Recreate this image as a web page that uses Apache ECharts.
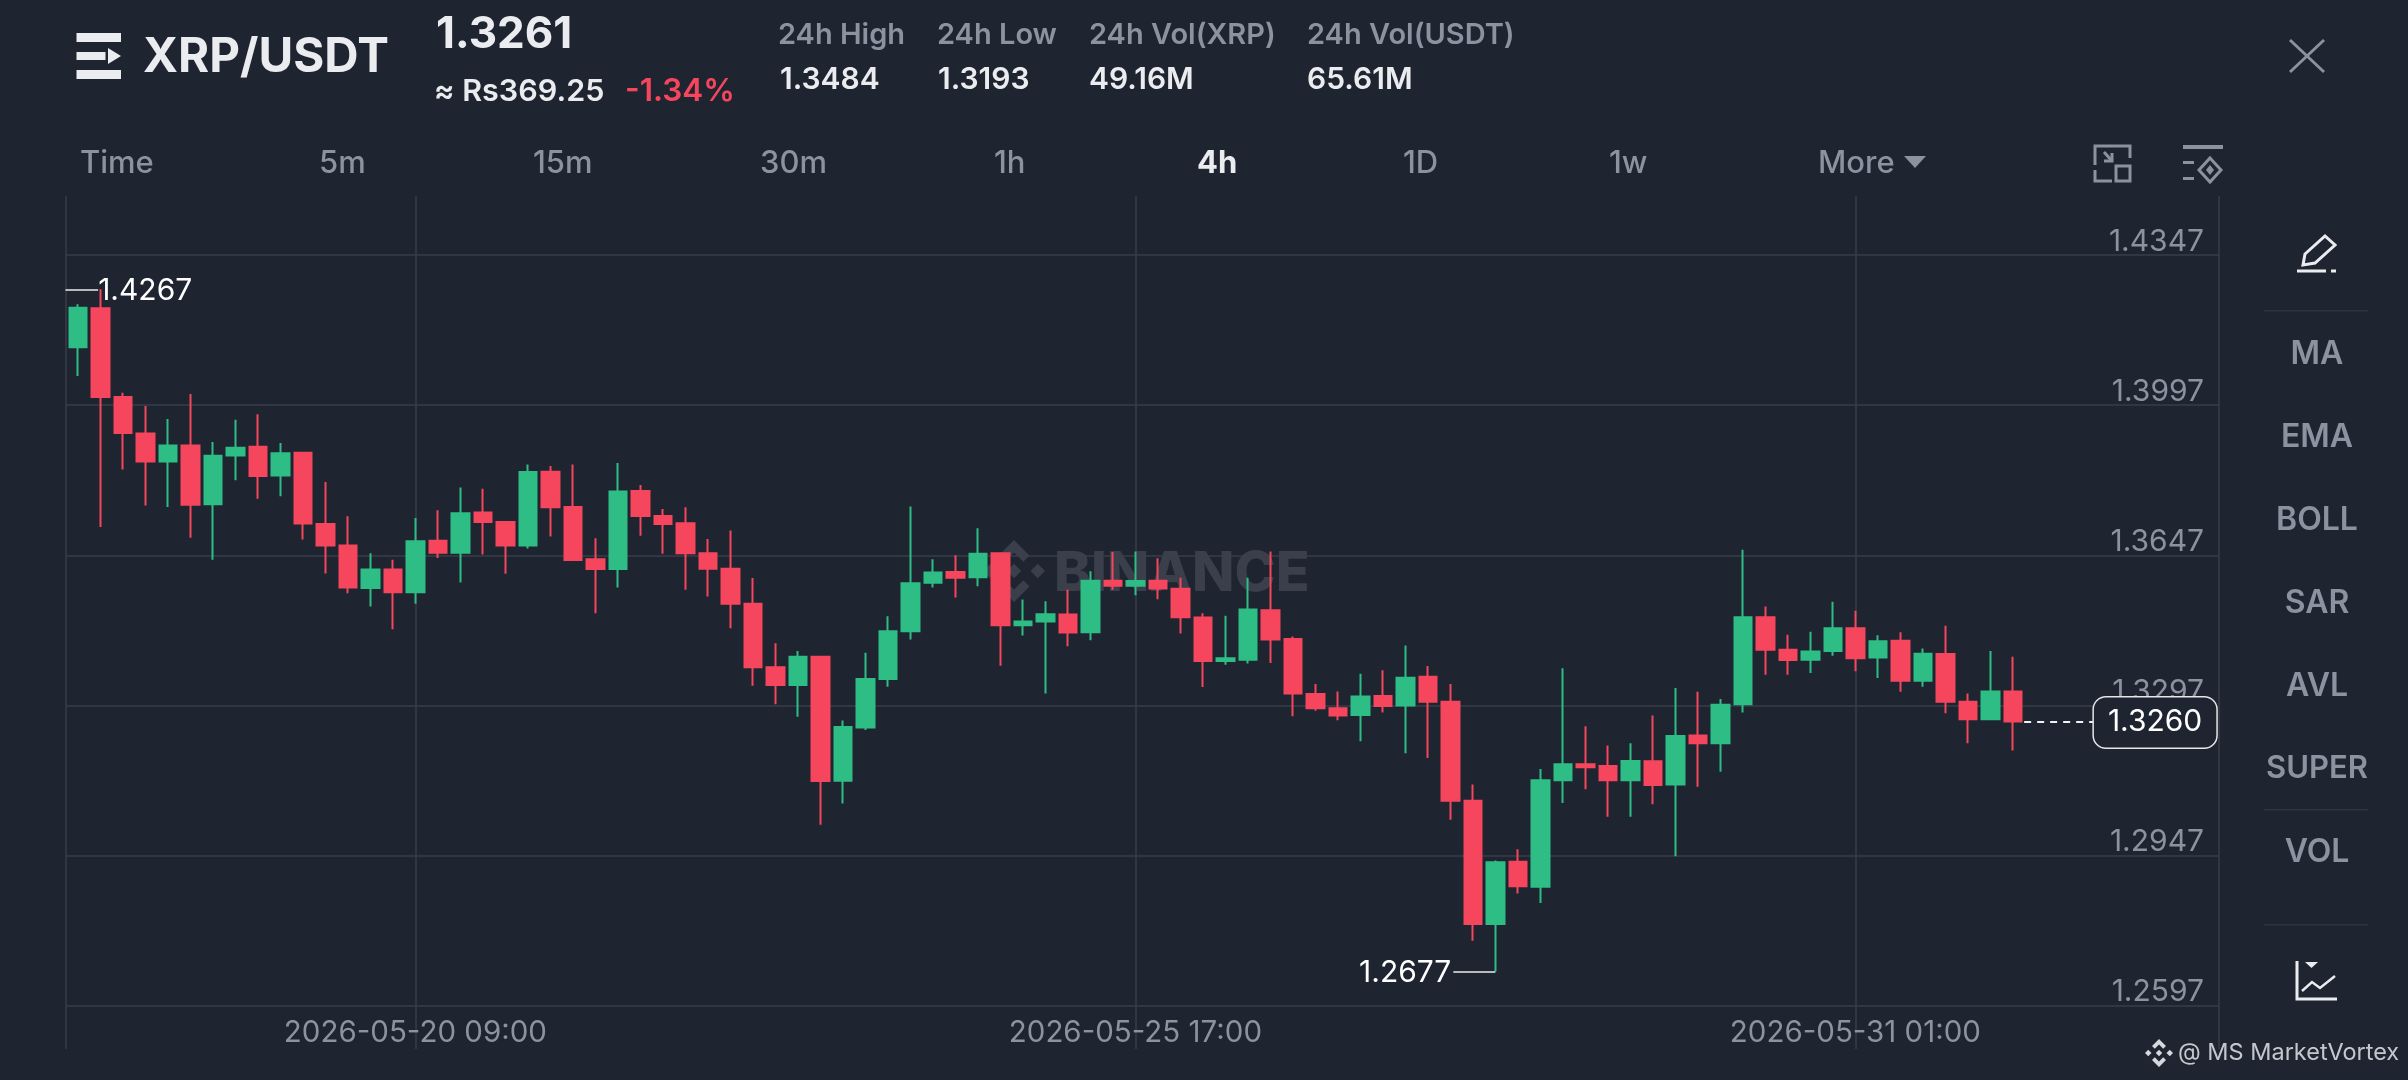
<!DOCTYPE html>
<html><head><meta charset="utf-8">
<style>html,body{margin:0;padding:0;background:#1E2430}#c{width:2408px;height:1080px}</style>
<script src="https://cdn.jsdelivr.net/npm/echarts@6/dist/echarts.min.js"></script>
</head><body><div id="c"></div>
<script>
const candleTimes = [
'05-17 21:00',
'05-18 01:00','05-18 05:00','05-18 09:00','05-18 13:00','05-18 17:00','05-18 21:00',
'05-19 01:00','05-19 05:00','05-19 09:00','05-19 13:00','05-19 17:00','05-19 21:00',
'05-20 01:00','05-20 05:00','05-20 09:00','05-20 13:00','05-20 17:00','05-20 21:00',
'05-21 01:00','05-21 05:00','05-21 09:00','05-21 13:00','05-21 17:00','05-21 21:00',
'05-22 01:00','05-22 05:00','05-22 09:00','05-22 13:00','05-22 17:00','05-22 21:00',
'05-23 01:00','05-23 05:00','05-23 09:00','05-23 13:00','05-23 17:00','05-23 21:00',
'05-24 01:00','05-24 05:00','05-24 09:00','05-24 13:00','05-24 17:00','05-24 21:00',
'05-25 01:00','05-25 05:00','05-25 09:00','05-25 13:00','05-25 17:00','05-25 21:00',
'05-26 01:00','05-26 05:00','05-26 09:00','05-26 13:00','05-26 17:00','05-26 21:00',
'05-27 01:00','05-27 05:00','05-27 09:00','05-27 13:00','05-27 17:00','05-27 21:00',
'05-28 01:00','05-28 05:00','05-28 09:00','05-28 13:00','05-28 17:00','05-28 21:00',
'05-29 01:00','05-29 05:00','05-29 09:00','05-29 13:00','05-29 17:00','05-29 21:00',
'05-30 01:00','05-30 05:00','05-30 09:00','05-30 13:00','05-30 17:00','05-30 21:00',
'05-31 01:00','05-31 05:00','05-31 09:00','05-31 13:00','05-31 17:00','05-31 21:00',
'06-01 01:00','06-01 05:00'];
const opens = [1.4132,1.4223,1.4016,1.3931,1.3866,1.3903,1.3766,1.3880,1.3900,1.3833,1.3886,1.3720,1.3670,1.3571,1.3614,1.3561,1.3681,1.3653,1.3747,1.3725,1.3670,1.3842,1.3760,1.3638,1.3615,1.3797,1.3739,1.3722,1.3652,1.3616,1.3534,1.3386,1.3345,1.3411,1.3122,1.3246,1.3359,1.3470,1.3583,1.3608,1.3596,1.3652,1.3484,1.3493,1.3509,1.3468,1.3588,1.3576,1.3588,1.3569,1.3502,1.3401,1.3404,1.3519,1.3452,1.3324,1.3291,1.3275,1.3319,1.3297,1.3364,1.3306,1.3075,1.2788,1.2933,1.2875,1.3123,1.3160,1.3156,1.3123,1.3167,1.3113,1.3227,1.3209,1.3300,1.3503,1.3427,1.3404,1.3424,1.3477,1.3409,1.3448,1.3355,1.3417,1.3306,1.3265,1.3330];
const closes = [1.4224,1.4016,1.3932,1.3866,1.3903,1.3765,1.3879,1.3898,1.3832,1.3885,1.3721,1.3670,1.3572,1.3614,1.3561,1.3680,1.3653,1.3745,1.3725,1.3670,1.3841,1.3759,1.3636,1.3615,1.3796,1.3739,1.3720,1.3652,1.3616,1.3534,1.3386,1.3345,1.3411,1.3121,1.3247,1.3359,1.3470,1.3582,1.3607,1.3595,1.3651,1.3484,1.3493,1.3510,1.3467,1.3588,1.3576,1.3587,1.3570,1.3503,1.3401,1.3407,1.3521,1.3451,1.3325,1.3291,1.3274,1.3318,1.3296,1.3362,1.3306,1.3075,1.2788,1.2932,1.2876,1.3123,1.3160,1.3153,1.3123,1.3168,1.3112,1.3226,1.3209,1.3299,1.3503,1.3427,1.3403,1.3423,1.3477,1.3407,1.3447,1.3355,1.3418,1.3306,1.3265,1.3330,1.3260];
const lows = [1.4065,1.3713,1.3847,1.3763,1.3760,1.3688,1.3637,1.3822,1.3779,1.3785,1.3684,1.3605,1.3559,1.3528,1.3475,1.3534,1.3641,1.3584,1.3649,1.3604,1.3663,1.3691,1.3636,1.3512,1.3572,1.3693,1.3651,1.3567,1.3551,1.3477,1.3343,1.3300,1.3271,1.3019,1.3069,1.3240,1.3341,1.3451,1.3572,1.3549,1.3575,1.3390,1.3460,1.3325,1.3435,1.3449,1.3567,1.3554,1.3545,1.3465,1.3340,1.3392,1.3395,1.3396,1.3272,1.3285,1.3263,1.3214,1.3281,1.3186,1.3175,1.3031,1.2749,1.2677,1.2859,1.2837,1.3070,1.3102,1.3038,1.3038,1.3067,1.2946,1.3108,1.3143,1.3281,1.3369,1.3369,1.3373,1.3413,1.3377,1.3361,1.3329,1.3341,1.3279,1.3209,1.3265,1.3192];
const highs = [1.4232,1.4267,1.4026,1.3995,1.3965,1.4023,1.3911,1.3963,1.3976,1.3909,1.3887,1.3818,1.3738,1.3652,1.3637,1.3734,1.3752,1.3805,1.3802,1.3727,1.3859,1.3855,1.3859,1.3687,1.3862,1.3811,1.3755,1.3759,1.3685,1.3705,1.3594,1.3442,1.3424,1.3413,1.3262,1.3420,1.3505,1.3761,1.3638,1.3647,1.3710,1.3654,1.3544,1.3540,1.3567,1.3610,1.3655,1.3656,1.3640,1.3595,1.3512,1.3506,1.3595,1.3656,1.3458,1.3347,1.3330,1.3371,1.3379,1.3437,1.3389,1.3347,1.3113,1.2936,1.2962,1.3149,1.3384,1.3249,1.3204,1.3209,1.3274,1.3338,1.3329,1.3312,1.3660,1.3528,1.3462,1.3469,1.3539,1.3518,1.3461,1.3468,1.3430,1.3483,1.3325,1.3424,1.3411];
const xTickIndexes = [15, 47, 79];
const xTickYear = '2026-';
const yTicks = [1.2597, 1.2947, 1.3297, 1.3647, 1.3997, 1.4347];
const highLabel = 1.4267, highIndex = 1;
const lowLabel = 1.2677, lowIndex = 63;
const lastPrice = 1.3260;

const BG='#1E2430', GRAY='#8B93A0', WHITE='#EAECEF', UP='#2EBD85', DOWN='#F6465D', LINE='#383E49';
const FONT='Inter';
const X_MIN=-0.55, X_MAX=95.16;

const T=(text,x,y,size,weight,color,align)=>({type:'text',z:20,silent:true,style:{text,x,y,font:`${weight} ${size}px ${FONT}`,fill:color,align:align||'left',verticalAlign:'middle'}});
const P=(points,opt)=>({type:'polygon',z:opt.z||20,silent:true,shape:{points},style:{fill:opt.fill||'none',stroke:opt.stroke||null,lineWidth:opt.w||0}});
const L=(points,color,w)=>({type:'polyline',z:20,silent:true,shape:{points},style:{stroke:color,lineWidth:w,fill:'none'}});
const R=(x,y,w,h,fill)=>({type:'rect',z:20,silent:true,shape:{x,y,width:w,height:h},style:{fill}});
const logo=(cx,cy,r,fill,z)=>{
  const s=r/30, m=p=>p.map(a=>[cx+a[0]*s,cy+a[1]*s]);
  return [
    [[0,-30],[15,-15],[9,-9],[0,-18],[-9,-9],[-15,-15]],
    [[0,30],[15,15],[9,9],[0,18],[-9,9],[-15,15]],
    [[-30,0],[-23,-7],[-16,0],[-23,7]],
    [[30,0],[23,-7],[16,0],[23,7]],
    [[0,-7],[7,0],[0,7],[-7,0]]
  ].map(p=>P(m(p),{fill,z}));
};

const graphics=[
  // header
  R(76.5,33,44.5,9,WHITE),R(76.5,52,29,8,WHITE),R(76.5,70,44.5,9,WHITE),
  P([[108,48],[121,56],[108,64]],{fill:WHITE}),
  T('XRP/USDT',143,58,47.5,700,WHITE),
  T('1.3261',436,35,44,700,WHITE),
  T('≈ Rs369.25',434,92,30.5,600,WHITE),
  T('-1.34%',625,92,31.5,600,DOWN),
  T('24h High',778,35,29,600,GRAY),T('1.3484',780,80,30,600,WHITE),
  T('24h Low',937,35,29,600,GRAY),T('1.3193',938,80,30,600,WHITE),
  T('24h Vol(XRP)',1089,35,29,600,GRAY),T('49.16M',1089,80,30,600,WHITE),
  T('24h Vol(USDT)',1307,35,29,600,GRAY),T('65.61M',1307,80,30,600,WHITE),
  L([[2290,40],[2324,72]],GRAY,3),L([[2324,40],[2290,72]],GRAY,3),
  // tabs
  T('Time',80,164,31,500,GRAY),T('5m',319,164,31,500,GRAY),T('15m',533,164,31,500,GRAY),
  T('30m',760,164,31,500,GRAY),T('1h',994,164,31,500,GRAY),T('4h',1197,164,31,700,WHITE),
  T('1D',1403,164,31,500,GRAY),T('1w',1609,164,31,500,GRAY),T('More',1818,164,31,500,GRAY),
  P([[1904,156],[1926,156],[1915,168]],{fill:GRAY}),
  L([[2095,165],[2095,146],[2130,146],[2130,158]],GRAY,3),
  L([[2095,170],[2095,181],[2112,181]],GRAY,3),
  {type:'rect',z:20,silent:true,shape:{x:2116,y:166,width:14,height:15},style:{fill:'none',stroke:GRAY,lineWidth:3}},
  L([[2104,152],[2112,161]],GRAY,3),L([[2104,161],[2112,161],[2112,153]],GRAY,3),
  R(2183,145,40,4,GRAY),R(2183,161,11,3,GRAY),R(2183,177,11,3,GRAY),
  P([[2210,158],[2221,170],[2210,182],[2199,170]],{stroke:GRAY,w:3}),
  P([[2210,165],[2214,170],[2210,175],[2206,170]],{fill:GRAY}),
  // right panel
  P([[2305,254],[2325,236],[2335,245],[2315,263],[2303,265]],{stroke:WHITE,w:3}),
  L([[2297,271],[2326,271]],WHITE,3),L([[2331,271],[2336,271]],WHITE,3),
  R(2264,310,104,1.5,'#2E343F'),R(2264,809,104,1.5,'#2E343F'),R(2264,924,104,1.5,'#2E343F'),
  T('MA',2317,354,32,600,GRAY,'center'),T('EMA',2317,437,32,600,GRAY,'center'),
  T('BOLL',2317,520,32,600,GRAY,'center'),T('SAR',2317,603,32,600,GRAY,'center'),
  T('AVL',2317,686,32,600,GRAY,'center'),T('SUPER',2317,769,31,600,GRAY,'center'),
  T('VOL',2317,852,32,600,GRAY,'center'),
  L([[2297,961],[2297,999],[2337,999]],WHITE,3),
  L([[2302,991],[2312,982],[2320,988],[2335,976]],WHITE,2.5),
  P([[2305,962],[2318,962],[2311.5,968]],{fill:WHITE}),
  // watermark
  ...logo(1014,571,31,'#3A3F4B',1),
  {type:'text',z:1,silent:true,style:{text:'BINANCE',x:1054,y:574,font:`800 55.5px ${FONT}`,fill:'#3A3F4B',verticalAlign:'middle'}},
  // footer
  ...logo(2159,1053,14,'#D5D8DC',20),
  T('@ MS MarketVortex',2178,1053,23.5,400,'#C4C8CE')
];

const candles = candleTimes.map((t,i)=>[i,opens[i],closes[i],lows[i],highs[i]]);

const chart=echarts.init(document.getElementById('c'),null,{renderer:'canvas'});
chart.setOption({
  animation:false,
  backgroundColor:BG,
  textStyle:{fontFamily:FONT},
  graphic:graphics,
  grid:{left:65.5,width:2153.5,top:196,height:853,containLabel:false},
  xAxis:{
    type:'value',min:X_MIN,max:X_MAX,
    axisLine:{show:false},
    axisTick:{show:false,customValues:[X_MIN,...xTickIndexes,X_MAX]},
    splitLine:{show:true,showMinLine:true,showMaxLine:true,lineStyle:{color:LINE,width:1.5}},
    axisLabel:{show:true,inside:true,margin:1,customValues:xTickIndexes,color:GRAY,fontSize:29.5,fontFamily:FONT,
      formatter:v=>xTickYear+candleTimes[v]}
  },
  yAxis:{
    type:'value',position:'right',min:1.24966,max:1.44845,scale:true,
    axisLine:{show:false},
    axisTick:{show:false,customValues:yTicks},
    splitLine:{show:true,lineStyle:{color:LINE,width:1.5}},
    axisLabel:{inside:true,margin:15,customValues:yTicks,color:GRAY,fontSize:30,lineHeight:27,fontFamily:FONT,
      verticalAlign:'bottom',formatter:v=>v.toFixed(4)}
  },
  series:[{
    type:'candlestick',
    barWidth:18,
    clip:false,
    data:candles,
    encode:{x:0,y:[1,2,3,4]},
    itemStyle:{color:UP,color0:DOWN,borderColor:UP,borderColor0:DOWN,borderWidth:2},
    markLine:{
      silent:true,symbol:'none',animation:false,
      data:[
        [{coord:[-0.55,highLabel],lineStyle:{color:WHITE,width:1.5,type:'solid'},label:{show:true,position:'end',distance:0,offset:[0,2],formatter:highLabel.toFixed(4),color:'#fff',fontSize:30,fontFamily:FONT}},{coord:[highIndex-0.1,highLabel]}],
        [{coord:[lowIndex,lowLabel],lineStyle:{color:WHITE,width:1.5,type:'solid'},label:{show:true,position:'end',distance:2,offset:[0,1],formatter:lowLabel.toFixed(4),color:'#fff',fontSize:30,fontFamily:FONT}},{coord:[lowIndex-1.87,lowLabel]}],
        [{coord:[86.5,lastPrice],lineStyle:{color:'#F0F1F3',width:2,type:[7,6]},label:{show:true,position:'end',distance:0,offset:[0,1],formatter:lastPrice.toFixed(4),color:'#fff',fontSize:30,fontFamily:FONT,backgroundColor:BG,borderColor:'#E4E6E9',borderWidth:1.5,borderRadius:12,padding:[10,14]}},{coord:[89.6,lastPrice]}]
      ]
    }
  }]
});
</script></body></html>
